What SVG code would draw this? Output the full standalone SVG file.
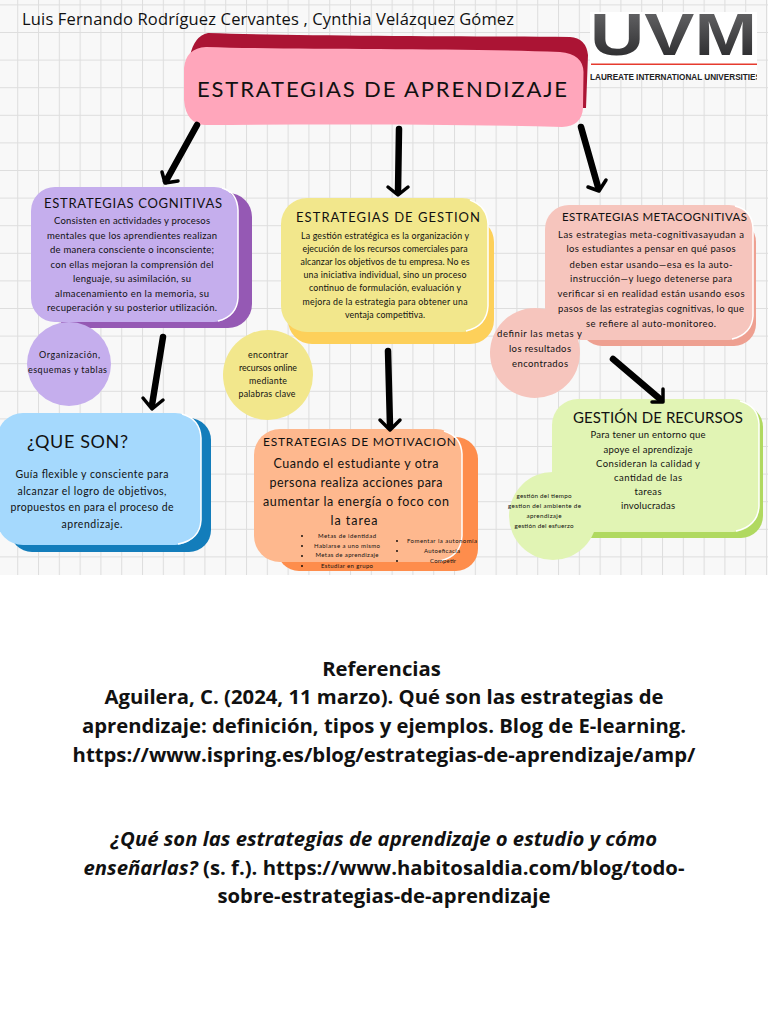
<svg xmlns="http://www.w3.org/2000/svg" width="768" height="1024" viewBox="0 0 768 1024">
<style>
text{font-family:"Lato","Noto Sans",sans-serif;fill:#111;text-anchor:middle}
.h{font-size:13px;text-anchor:start}
.b{font-size:9.500px}
.s{font-size:6px}
.cap{font-family:"Open Sans","Noto Sans",sans-serif;}
.ref{font-family:"Open Sans","Noto Sans",sans-serif;font-weight:700;font-size:20.300px;fill:#111}
.edge{fill:none;stroke:#fff;stroke-width:1.500}
.shaft{fill:none;stroke:#000;stroke-width:6.500;stroke-linecap:round}
.head{fill:none;stroke:#000;stroke-width:3.500;stroke-linecap:round;stroke-linejoin:round}
</style>
<defs>
<pattern id="grid" width="20.800" height="27.600" patternUnits="userSpaceOnUse" x="17.200" y="4.400">
<rect width="20.800" height="27.600" fill="#f8f8f8"/>
<path d="M0.500 0V27.600M0 0.500H20.800" stroke="#dedede" stroke-width="1" fill="none"/>
</pattern>
<linearGradient id="uvmg" x1="0" y1="0" x2="0" y2="1"><stop offset="0" stop-color="#6e6e70"/><stop offset="1" stop-color="#222224"/></linearGradient>
<clipPath id="logoclip"><rect x="590" y="60" width="167" height="30"/></clipPath>
</defs>
<rect width="768" height="1024" fill="#fff"/>
<rect width="768" height="575" fill="url(#grid)"/>
<text class="cap" x="22" y="25" font-size="16.500" style="text-anchor:start" textLength="492">Luis Fernando Rodríguez Cervantes , Cynthia Velázquez Gómez</text>

<g id="logo">
<rect x="590" y="12" width="167" height="66" fill="#fff"/>
<text x="590" y="55" font-size="60" textLength="167" lengthAdjust="spacingAndGlyphs" style="text-anchor:start;font-family:'Liberation Sans',sans-serif;font-weight:700;fill:url(#uvmg)">UVM</text>
<rect x="591" y="63.500" width="166" height="1.500" fill="#e63b2e"/>
<g clip-path="url(#logoclip)"><text x="590" y="80" font-size="8.500" textLength="171" lengthAdjust="spacingAndGlyphs" style="text-anchor:start;font-family:'Liberation Sans',sans-serif;font-weight:700;fill:#222">LAUREATE INTERNATIONAL UNIVERSITIES</text></g>
</g>

<g id="title">
<path d="M208 33C300 36 450 36 570 37Q586 38 588 55L586 108H190V56Q194 36 208 33Z" fill="#ab1434"/>
<path d="M206 47C300 50 450 48 560 52Q583 54 583.500 72L583 108Q582 126 562 127C450 124 320 124 205 125Q186 124 184 100V68Q186 48 206 47Z" fill="#ffa6bb"/>
<text x="197" y="97" font-size="22" style="text-anchor:start" textLength="370">ESTRATEGIAS DE APRENDIZAJE</text>
</g>

<g id="cognitivas">
<rect x="52" y="193" width="200" height="135" rx="24" fill="#9559b4"/>
<rect x="31" y="187" width="207" height="135" rx="24" fill="#c5aeed"/>
<path class="edge" d="M222 188Q237 192 238 210V298Q237 316 218 321"/>
<text class="h" x="44" y="208" textLength="178">ESTRATEGIAS COGNITIVAS</text>
<text class="b" x="132" y="224" textLength="156">Consisten en actividades y procesos</text>
<text class="b" x="132" y="239" textLength="170">mentales que los aprendientes realizan</text>
<text class="b" x="132" y="253" textLength="164">de manera consciente o inconsciente;</text>
<text class="b" x="132" y="268" textLength="163">con ellas mejoran la comprensión del</text>
<text class="b" x="132" y="282" textLength="118">lenguaje, su asimilación, su</text>
<text class="b" x="132" y="297" textLength="154">almacenamiento en la memoria, su</text>
<text class="b" x="132" y="311" textLength="170">recuperación y su posterior utilización.</text>
</g>
<g id="c-organizacion">
<circle cx="69" cy="364" r="42" fill="#c5aeed"/>
<text x="69.500" y="358" textLength="61" style="font-size:9px">Organización,</text>
<text x="67.500" y="373" textLength="79" style="font-size:9px">esquemas y tablas</text>
</g>

<g id="gestion">
<rect x="288" y="218" width="206" height="126" rx="24" fill="#fdd05a"/>
<rect x="281" y="198" width="207" height="134" rx="26" fill="#f2e78c"/>
<path class="edge" d="M470 200Q487 206 488 224V306Q487 326 466 331"/>
<text class="h" x="296" y="222" textLength="184">ESTRATEGIAS DE GESTION</text>
<text x="385" y="239" textLength="168" style="font-size:8.800px">La gestión estratégica es la organización y</text>
<text x="385" y="252" textLength="165" style="font-size:8.800px">ejecución de los recursos comerciales para</text>
<text x="385" y="265" textLength="169" style="font-size:8.800px">alcanzar los objetivos de tu empresa. No es</text>
<text x="385" y="278" textLength="163" style="font-size:8.800px">una iniciativa individual, sino un proceso</text>
<text x="385" y="291" textLength="152" style="font-size:8.800px">continuo de formulación, evaluación y</text>
<text x="385" y="305" textLength="165" style="font-size:8.800px">mejora de la estrategia para obtener una</text>
<text x="385" y="318" textLength="80" style="font-size:8.800px">ventaja competitiva.</text>
</g>
<g id="c-encontrar">
<circle cx="268" cy="375" r="45" fill="#f2e78c"/>
<text x="268" y="358" textLength="40" style="font-size:8.800px">encontrar</text>
<text x="268" y="371" textLength="58" style="font-size:8.800px">recursos online</text>
<text x="268" y="384" textLength="38" style="font-size:8.800px">mediante</text>
<text x="267" y="397" textLength="57" style="font-size:8.800px">palabras clave</text>
</g>

<g id="metacognitivas">
<rect x="580" y="220" width="176" height="126" rx="22" fill="#eea091"/>
<rect x="545" y="205" width="208" height="135" rx="24" fill="#f6c5bd"/>
<path class="edge" d="M735 206Q752 210 753 228V316Q752 334 732 339"/>
<text class="h" x="562" y="221" textLength="185" style="font-size:11.500px">ESTRATEGIAS METACOGNITIVAS</text>
<text class="b" x="651" y="238" textLength="186">Las estrategias meta-cognitivasayudan a</text>
<text class="b" x="651" y="252" textLength="169">los estudiantes a pensar en qué pasos</text>
<text class="b" x="651" y="268" textLength="163">deben estar usando—esa es la auto-</text>
<text class="b" x="651" y="282" textLength="162">instrucción—y luego detenerse para</text>
<text class="b" x="651" y="297" textLength="187">verificar si en realidad están usando esos</text>
<text class="b" x="651" y="312" textLength="186">pasos de las estrategias cognitivas, lo que</text>
<text class="b" x="651" y="327" textLength="130">se refiere al auto-monitoreo.</text>
</g>
<g id="c-definir">
<circle cx="535" cy="353" r="45" fill="#f6c5bd"/>
<text class="b" x="539.500" y="337" textLength="85">definir las metas y</text>
<text class="b" x="540" y="352" textLength="62">los resultados</text>
<text class="b" x="540" y="367" textLength="56">encontrados</text>
</g>

<g id="recursos">
<rect x="565" y="405" width="198" height="133" rx="22" fill="#b0d960"/>
<rect x="552" y="399" width="207" height="133" rx="26" fill="#e1f4b4"/>
<path class="edge" d="M740 401Q758 406 759 424V506Q758 526 736 531"/>
<text class="h" x="573" y="423" textLength="170" style="font-size:15px">GESTIÓN DE RECURSOS</text>
<text class="b" x="648" y="438" textLength="115">Para tener un entorno que</text>
<text class="b" x="648" y="453" textLength="89">apoye el aprendizaje</text>
<text class="b" x="648" y="467" textLength="104">Consideran la calidad y</text>
<text class="b" x="648" y="481" textLength="68">cantidad de las</text>
<text class="b" x="648" y="495" textLength="27">tareas</text>
<text class="b" x="648" y="509" textLength="54">involucradas</text>
</g>
<g id="c-gestion">
<circle cx="553" cy="516" r="44" fill="#e1f4b4"/>
<text x="544" y="498" textLength="55" style="font-size:6.300px">gestión del tiempo</text>
<text x="544.500" y="508" textLength="73" style="font-size:6.300px">gestion del ambiente de</text>
<text x="544" y="518" textLength="35" style="font-size:6.300px">aprendizaje</text>
<text x="544" y="528" textLength="59" style="font-size:6.300px">gestión del esfuerzo</text>
</g>

<g id="queson">
<rect x="10" y="418" width="201" height="134" rx="22" fill="#137dbb"/>
<rect x="-3" y="413" width="204" height="132" rx="26" fill="#a5d9fd"/>
<path class="edge" d="M182 414Q200 419 201 438V520Q200 540 178 544"/>
<text class="h" x="27" y="448" textLength="101" style="font-size:18px">¿QUE SON?</text>
<text x="92" y="478" textLength="153" style="font-size:10.500px">Guía flexible y consciente para</text>
<text x="92" y="495" textLength="149" style="font-size:10.500px">alcanzar el logro de objetivos,</text>
<text x="92" y="511" textLength="163" style="font-size:10.500px">propuestos en para el proceso de</text>
<text x="92" y="528" textLength="61" style="font-size:10.500px">aprendizaje.</text>
</g>

<g id="motivacion">
<rect x="277" y="437" width="201" height="134" rx="22" fill="#fe8d4c"/>
<rect x="254" y="429" width="208" height="133" rx="26" fill="#feb88e"/>
<path class="edge" d="M444 431Q461 436 462 454V536Q461 556 440 561"/>
<text class="h" x="263" y="446" textLength="193" style="font-size:12px">ESTRATEGIAS DE MOTIVACION</text>
<text x="356" y="468" textLength="165" style="font-size:12.500px">Cuando el estudiante y otra</text>
<text x="356" y="487" textLength="173" style="font-size:12.500px">persona realiza acciones para</text>
<text x="356" y="506" textLength="186" style="font-size:12.500px">aumentar la energía o foco con</text>
<text x="354" y="525" textLength="47" style="font-size:12.500px">la tarea</text>
<text class="s" x="347" y="538" textLength="58">Metas de identidad</text>
<text class="s" x="347" y="548" textLength="66">Hablarse a uno mismo</text>
<text class="s" x="347" y="557" textLength="63">Metas de aprendizaje</text>
<text class="s" x="347" y="568" textLength="52">Estudiar en grupo</text>
<circle cx="302" cy="536" r="0.900"/><circle cx="302" cy="546" r="0.900"/><circle cx="302" cy="556" r="0.900"/><circle cx="302" cy="566" r="0.900"/>
<text class="s" x="442" y="543" textLength="70">Fomentar la autonomía</text>
<text class="s" x="442" y="553" textLength="36">Autoeficacia</text>
<text class="s" x="443" y="563" textLength="26">Competir</text>
<circle cx="397" cy="541" r="0.900"/><circle cx="397" cy="551" r="0.900"/><circle cx="397" cy="561" r="0.900"/>
</g>

<g id="connectors">
<path class="shaft" d="M197 125L166 181"/><path class="head" d="M162 172L165 183L178 181"/>
<path class="shaft" d="M399 129L398 192"/><path class="head" d="M388 187L398 195L408 187"/>
<path class="shaft" d="M581 127L598 187"/><path class="head" d="M588 187L599 191L606 180"/>
<path class="shaft" d="M163 337L152 405"/><path class="head" d="M143 398L152 409L163 400"/>
<path class="shaft" d="M388 351L390 426"/><path class="head" d="M380 420L390 430L400 420"/>
<path class="shaft" d="M613 359L660 399"/><path class="head" d="M652 402L663 402L663 389"/>
</g>

<g id="referencias">
<text class="ref" x="381.500" y="676">Referencias</text>
<text class="ref" x="384" y="704">Aguilera, C. (2024, 11 marzo). Qué son las estrategias de</text>
<text class="ref" x="384" y="733">aprendizaje: definición, tipos y ejemplos. Blog de E-learning.</text>
<text class="ref" x="384" y="762">https://www.ispring.es/blog/estrategias-de-aprendizaje/amp/</text>
<text class="ref" x="384" y="846" font-style="italic">¿Qué son las estrategias de aprendizaje o estudio y cómo</text>
<text class="ref" x="384" y="875"><tspan font-style="italic">enseñarlas?</tspan> (s. f.). https://www.habitosaldia.com/blog/todo-</text>
<text class="ref" x="384" y="903">sobre-estrategias-de-aprendizaje</text>
</g>
</svg>
